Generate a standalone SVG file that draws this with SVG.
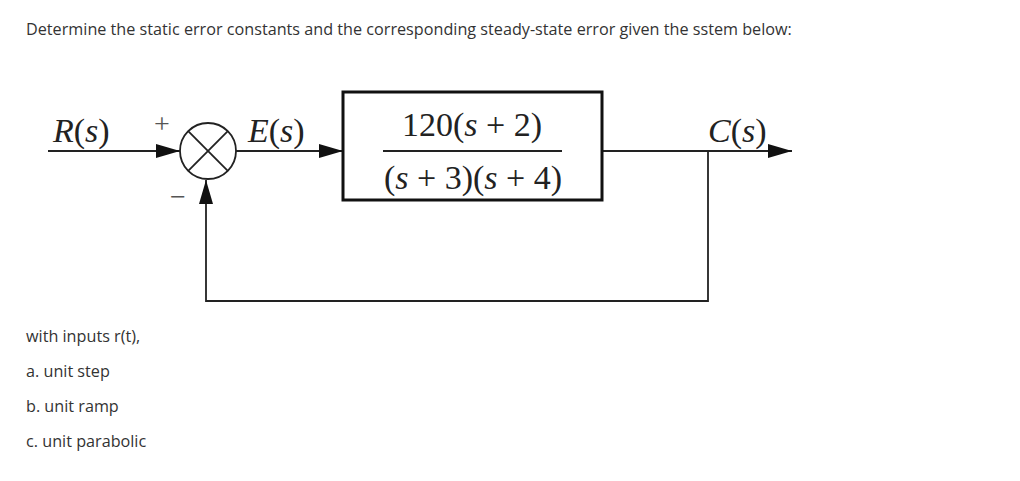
<svg xmlns="http://www.w3.org/2000/svg" width="1020" height="481" viewBox="0 0 1020 481">
<style>
.t{font-family:"Open Sans",sans-serif;font-size:16.2px;fill:#333}
.m{font-family:"Liberation Serif",serif;font-size:34px;fill:#222}
.i{font-style:italic}
.ln{stroke:#222;stroke-width:1.8;fill:none}
</style>
<defs>
<marker id="ah" viewBox="0 0 24 14" refX="24" refY="7" markerWidth="24" markerHeight="14" markerUnits="userSpaceOnUse" orient="auto">
<path d="M0,0 L24,7 L0,14 Z" fill="#111"/>
</marker>
</defs>
<rect width="1020" height="481" fill="#fff"/>
<text class="t" x="26" y="35">Determine the static error constants and the corresponding steady-state error given the sstem below:</text>
<g id="connectors">
<line class="ln" x1="48" y1="151" x2="180" y2="151" marker-end="url(#ah)"/>
<line class="ln" x1="236" y1="151" x2="343" y2="151" marker-end="url(#ah)"/>
<line class="ln" x1="602" y1="151" x2="792" y2="151" marker-end="url(#ah)"/>
<polyline class="ln" points="708,151 708,301 206,301 206,180" marker-end="url(#ah)"/>
</g>
<g id="sum">
<circle cx="208" cy="151" r="28" fill="#fff" stroke="#222" stroke-width="1.8"/>
<line class="ln" x1="188.2" y1="131.2" x2="227.8" y2="170.8"/>
<line class="ln" x1="227.8" y1="131.2" x2="188.2" y2="170.8"/>
<text x="162" y="133" text-anchor="middle" style="font-family:'Liberation Serif',serif;font-size:28px;fill:#555">+</text>
<text x="178" y="206" text-anchor="middle" style="font-family:'Liberation Serif',serif;font-size:28px;fill:#555">−</text>
</g>
<g id="block">
<rect x="343" y="92" width="259" height="108" fill="#fff" stroke="#111" stroke-width="3"/>
<line x1="383" y1="151" x2="562" y2="151" stroke="#222" stroke-width="1.8"/>
<text class="m" x="472" y="136" text-anchor="middle">120(<tspan class="i">s</tspan> + 2)</text>
<text class="m" x="473" y="189" text-anchor="middle">(<tspan class="i">s</tspan> + 3)(<tspan class="i">s</tspan> + 4)</text>
</g>
<g id="labels">
<text class="m" x="53" y="142"><tspan class="i">R</tspan>(<tspan class="i">s</tspan>)</text>
<text class="m" x="248" y="142"><tspan class="i">E</tspan>(<tspan class="i">s</tspan>)</text>
<text class="m" x="708" y="142"><tspan class="i">C</tspan>(<tspan class="i">s</tspan>)</text>
</g>
<text class="t" x="26" y="342">with inputs r(t),</text>
<text class="t" x="26" y="377">a. unit step</text>
<text class="t" x="26" y="412">b. unit ramp</text>
<text class="t" x="26" y="447">c. unit parabolic</text>
</svg>
